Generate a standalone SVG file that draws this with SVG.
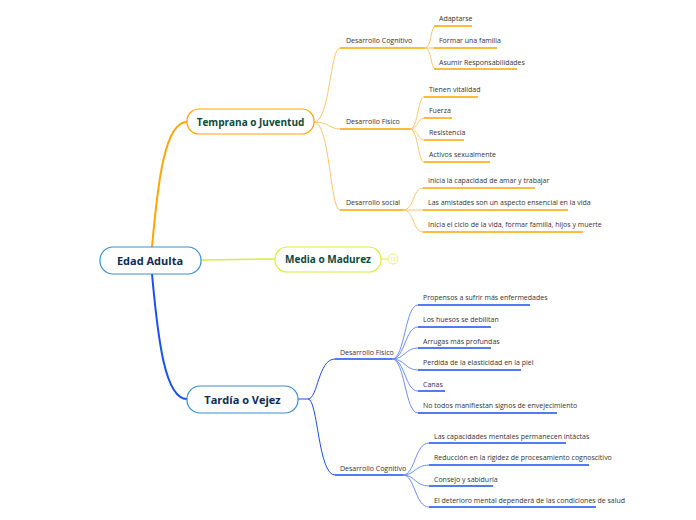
<svg xmlns="http://www.w3.org/2000/svg" width="696" height="520" viewBox="0 0 696 520">
<style>
text{font-family:"Open Sans","Noto Sans",sans-serif;fill:#333;}
.l{font-size:7px;}
.t{font-size:10px;font-weight:bold;fill:#0b4a3a;text-anchor:middle;}
.o{stroke:#ffa500;fill:none;}
.ol{stroke:#ffc66b;fill:none;stroke-width:1;}
.b{stroke:#1a4ff0;fill:none;}
.bl{stroke:#6f8ff5;fill:none;stroke-width:1;}
</style>
<rect width="696" height="520" fill="#fff"/>
<g id="connectors">
<path d="M152,247 C158,180 165,122 187,122" stroke="#ffa500" stroke-width="2" fill="none"/>
<path d="M152,274 C158,340 165,399 187,399" stroke="#1a4ff0" stroke-width="2" fill="none"/>
<path d="M201,260 L275,259" stroke="#d9ee3a" stroke-width="1.5" fill="none"/>
<path d="M381,259 L388,259" stroke="#d9ee3a" fill="none"/>
<path class="ol" d="M314,122 C330,122 330,48 340,48"/>
<path class="ol" d="M314,122 C328,122 330,129 340,129"/>
<path class="ol" d="M314,122 C330,122 330,210 340,210"/>
<path class="o" stroke-width="1.5" d="M340,48 H425 M340,129 H410 M340,210 H403"/>
<path class="ol" d="M425,48 C432,48 430,26 436,26 M425,48 H436 M425,48 C432,48 430,69 436,69"/>
<path class="o" stroke-width="1.5" d="M434,26 H472 M434,48 H497 M434,69 H517"/>
<path class="ol" d="M410,129 C418,129 418,97 424,97 M410,129 C418,129 418,118 424,118 M410,129 C418,129 418,140 424,140 M410,129 C418,129 418,162 424,162"/>
<path class="o" stroke-width="1.5" d="M424,97 H478 M424,118 H452 M424,140 H464 M424,162 H490"/>
<path class="ol" d="M403,210 C415,210 412,188 423,188 M403,210 H423 M403,210 C415,210 412,232 423,232"/>
<path class="o" stroke-width="1.5" d="M423,188 H535 M423,210 H568 M423,232 H583"/>
<path class="b" d="M298,399 H308 C318,399 318,359 335,359"/>
<path class="b" d="M308,399 C318,399 318,475 335,475"/>
<path class="b" stroke-width="1.5" d="M335,359 H392 M335,475 H403"/>
<path class="bl" d="M392,359 C405,359 405,305 418,305 M392,359 C405,359 405,327 418,327 M392,359 C405,359 405,348 418,348 M392,359 C405,359 405,370 418,370 M392,359 C405,359 405,391 418,391 M392,359 C405,359 405,413 418,413"/>
<path class="b" stroke-width="1.5" d="M418,305 H530 M418,327 H491 M418,348 H491 M418,370 H521 M418,391 H445 M418,413 H557"/>
<path class="bl" d="M403,475 C415,475 415,443 429,443 M403,475 C415,475 415,465 429,465 M403,475 C415,475 415,486 429,486 M403,475 C415,475 415,507 429,507"/>
<path class="b" stroke-width="1.5" d="M429,443 H566 M429,465 H589 M429,486 H493 M429,507 H596"/>
</g>
<g id="root"><rect x="100" y="247" width="101" height="27" rx="13" fill="#fff" stroke="#3a8fd0" stroke-width="1.2"/><text class="t" x="150" y="264.5" style="font-size:11px;fill:#0d2b55">Edad Adulta</text></g>
<g id="temprana"><rect x="187" y="109" width="127" height="25" rx="12" fill="#fff" stroke="#ffa500" stroke-width="1.2"/><text class="t" x="250.5" y="125.5">Temprana o Juventud</text></g>
<g id="media"><rect x="275" y="247" width="106" height="25" rx="12" fill="#fff" stroke="#d9ee3a" stroke-width="1.2"/><text class="t" x="328" y="263">Media o Madurez</text><circle cx="393" cy="259" r="5" fill="#fff" stroke="#e6f27a"/><text x="393" y="261" style="font-size:5px;fill:#d9ee3a;text-anchor:middle">13</text></g>
<g id="tardia"><rect x="187" y="386" width="111" height="27" rx="13" fill="#fff" stroke="#3a8fd0" stroke-width="1.2"/><text class="t" x="242.5" y="403.5" style="font-size:11px;fill:#0d2b55">Tardía o Vejez</text></g>
<g id="labels">
<text class="l" x="346" y="43">Desarrollo Cognitivo</text>
<text class="l" x="346" y="124">Desarrollo Físico</text>
<text class="l" x="346" y="205">Desarrollo social</text>
<text class="l" x="439" y="21">Adaptarse</text>
<text class="l" x="439" y="43">Formar una familia</text>
<text class="l" x="439" y="65">Asumir Responsabilidades</text>
<text class="l" x="429" y="92">Tienen vitalidad</text>
<text class="l" x="429" y="113">Fuerza</text>
<text class="l" x="429" y="135">Resistencia</text>
<text class="l" x="429" y="157">Activos sexualmente</text>
<text class="l" x="428" y="183">Inicia la capacidad de amar y trabajar</text>
<text class="l" x="428" y="205">Las amistades son un aspecto ensencial en la vida</text>
<text class="l" x="428" y="227">Inicia el ciclo de la vida, formar familia, hijos y muerte</text>
<text class="l" x="340" y="355">Desarrollo Físico</text>
<text class="l" x="340" y="471">Desarrollo Cognitivo</text>
<text class="l" x="423" y="300">Propensos a sufrir más enfermedades</text>
<text class="l" x="423" y="322">Los huesos se debilitan</text>
<text class="l" x="423" y="344">Arrugas más profundas</text>
<text class="l" x="423" y="365">Perdida de la elasticidad en la piel</text>
<text class="l" x="423" y="387">Canas</text>
<text class="l" x="423" y="408">No todos manifiestan signos de envejecimiento</text>
<text class="l" x="434" y="439">Las capacidades mentales permanecen intáctas</text>
<text class="l" x="434" y="460">Reducción en la rigidez de procesamiento cognoscitivo</text>
<text class="l" x="434" y="482">Consejo y sabiduría</text>
<text class="l" x="434" y="503">El deterioro mental dependerá de las condiciones de salud</text>
</g>
</svg>
